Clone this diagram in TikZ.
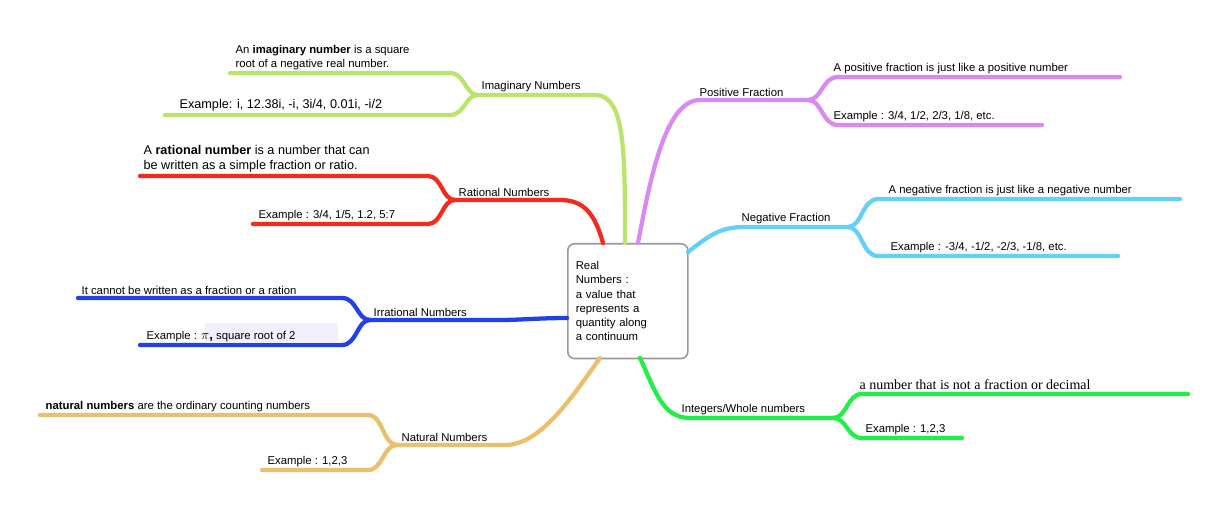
\documentclass[tikz,border=0pt]{standalone}
\usepackage{fontspec}
\setmainfont{Liberation Sans}
\newfontfamily\serifx{Liberation Serif}
\begin{document}
\begin{tikzpicture}[x=0.75pt,y=-0.75pt,
 br/.style={line width=3.2pt,line cap=round},
 lbl/.style={anchor=south west,inner sep=1pt,font=\fontsize{8.5}{10}\selectfont},
 lblr/.style={anchor=south east,inner sep=1pt,font=\fontsize{8.5}{10}\selectfont}]
\useasboundingbox (0,0) rectangle (1228,516);
\definecolor{cImg}{HTML}{BCE36C}\definecolor{cRat}{HTML}{F22B1E}
\definecolor{cIrr}{HTML}{2340E4}\definecolor{cNat}{HTML}{E9C06E}
\definecolor{cPos}{HTML}{D98AF2}\definecolor{cNeg}{HTML}{66CFF8}
\definecolor{cInt}{HTML}{22EE48}
% center
\node (c) [draw=gray!80,line width=1.2pt,rounded corners=5pt,minimum width=90pt,minimum height=86pt,anchor=north west,text width=78pt,align=left,font=\fontsize{8.5}{10.6}\selectfont] at (567,243) {Real\\Numbers :\\a value that\\represents a\\quantity along\\a continuum};
\coordinate (ci) at (625,243); \coordinate (cr) at (603,243); \coordinate (cp) at (638,243);
\coordinate (cn) at (688,252); \coordinate (cb) at (567,318);
\coordinate (cnat) at (600,358); \coordinate (cint) at (640,358);
% Imaginary
\draw[br,cImg] (ci) .. controls (625,150) and (625,95) .. (595,95) -- (478,95) coordinate (fi);
\draw[br,cImg] (fi) .. controls (465,95) and (465,73) .. (450,73) -- (230,73);
\draw[br,cImg] (fi) .. controls (465,95) and (465,115) .. (450,115) -- (165,115);
\node[lbl] at (480,93) {Imaginary Numbers};
\node[lbl,align=left] at (234,71) {An \textbf{imaginary number} is a square\\root of a negative real number.};
\node[lbl,font=\fontsize{9.5}{11}\selectfont] at (178,113) {Example: i, 12.38i, -i, 3i/4, 0.01i, -i/2};
% Rational
\draw[br,cRat] (cr) .. controls (595,215) and (585,200) .. (560,200) -- (455,200) coordinate (fr);
\draw[br,cRat] (fr) .. controls (442,200) and (442,176) .. (428,176) -- (140,176);
\draw[br,cRat] (fr) .. controls (442,200) and (442,224) .. (428,224) -- (253,224);
\node[lbl] at (457,198) {Rational Numbers};
\node[lbl,align=left,font=\fontsize{9.5}{11.5}\selectfont] at (142,174) {A \textbf{rational number} is a number that can\\be written as a simple fraction or ratio.};
\node[lbl] at (257,222) {Example : 3/4, 1/5, 1.2, 5:7};
% Irrational
\draw[br,cIrr] (cb) .. controls (540,318) and (520,320) .. (500,320) -- (370,320) coordinate (fir);
\draw[br,cIrr] (fir) .. controls (357,320) and (357,298) .. (342,298) -- (78,298);
\draw[br,cIrr] (fir) .. controls (357,320) and (357,345) .. (342,345) -- (140,345);
\node[lbl] at (372,318) {Irrational Numbers};
\node[lbl] at (80,296) {It cannot be written as a fraction or a ration};
\fill[blue!6] (205,323) rectangle (338,343);
\node[lbl] at (145,343) {Example : {\fontsize{10}{11}\selectfont $\pi$\textbf{,}} square root of 2};
% Natural
\draw[br,cNat] (cnat) .. controls (570,400) and (540,445) .. (505,445) -- (397,445) coordinate (fn);
\draw[br,cNat] (fn) .. controls (383,445) and (383,415) .. (368,415) -- (40,415);
\draw[br,cNat] (fn) .. controls (383,445) and (383,470) .. (368,470) -- (262,470);
\node[lbl] at (400,443) {Natural Numbers};
\node[lbl] at (44,413) {\textbf{natural numbers} are the ordinary counting numbers};
\node[lbl] at (266,468) {Example : 1,2,3};
% Positive
\draw[br,cPos] (cp) .. controls (650,180) and (665,100) .. (700,100) -- (808,100) coordinate (fp);
\draw[br,cPos] (fp) .. controls (822,100) and (822,77) .. (838,77) -- (1120,77);
\draw[br,cPos] (fp) .. controls (822,100) and (822,125) .. (838,125) -- (1042,125);
\node[lbl] at (698,98) {Positive Fraction};
\node[lbl] at (832,75) {A positive fraction is just like a positive number};
\node[lbl] at (832,123) {Example : 3/4, 1/2, 2/3, 1/8, etc.};
% Negative
\draw[br,cNeg] (cn) .. controls (710,235) and (720,227) .. (745,227) -- (848,227) coordinate (fng);
\draw[br,cNeg] (fng) .. controls (862,227) and (862,199) .. (878,199) -- (1180,199);
\draw[br,cNeg] (fng) .. controls (862,227) and (862,256) .. (878,256) -- (1118,256);
\node[lbl] at (740,225) {Negative Fraction};
\node[lbl] at (887,197) {A negative fraction is just like a negative number};
\node[lbl] at (889,254) {Example : -3/4, -1/2, -2/3, -1/8, etc.};
% Integers
\draw[br,cInt] (cint) .. controls (655,390) and (662,418) .. (690,418) -- (833,418) coordinate (ft);
\draw[br,cInt] (ft) .. controls (847,418) and (847,394) .. (862,394) -- (1188,394);
\draw[br,cInt] (ft) .. controls (847,418) and (847,438) .. (862,438) -- (962,438);
\node[lbl] at (680,416) {Integers/Whole numbers};
\node[lbl,font=\serifx\fontsize{10.5}{12}\selectfont] at (858,391) {a number that is not a fraction or decimal};
\node[lbl] at (864,436) {Example : 1,2,3};
\end{tikzpicture}
\end{document}
